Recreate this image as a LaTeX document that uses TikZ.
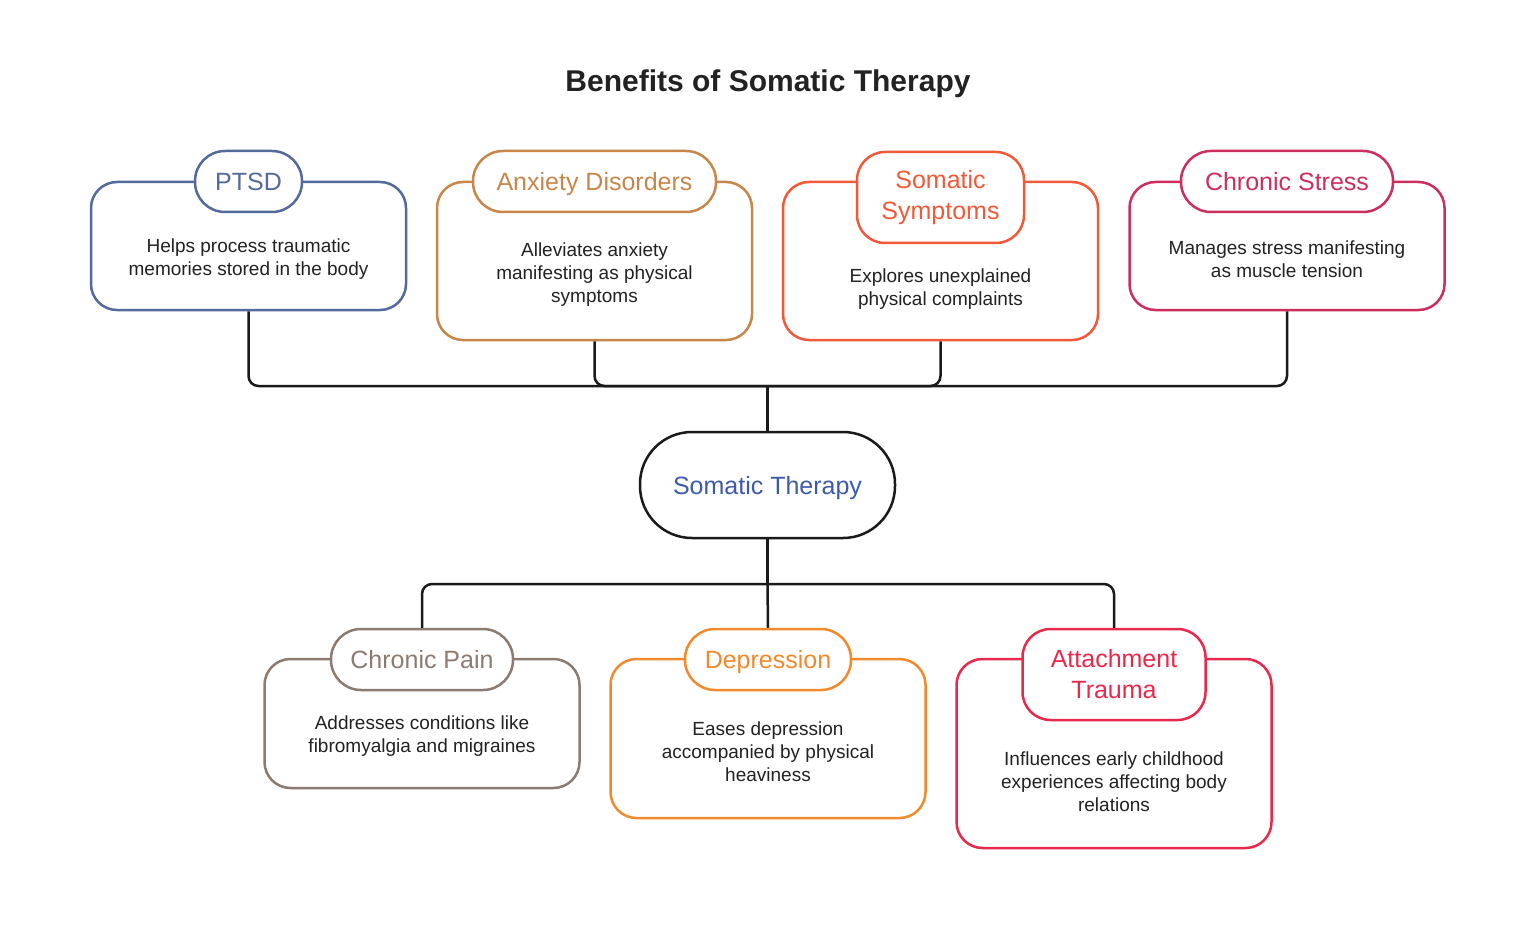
\documentclass[tikz,border=0pt]{standalone}
\usepackage{fontspec}
\setmainfont{Liberation Sans}
\definecolor{cA}{HTML}{546A9B}
\definecolor{cB}{HTML}{C8874A}
\definecolor{cC}{HTML}{F05A3A}
\definecolor{cD}{HTML}{CC2F5E}
\definecolor{cE}{HTML}{8C7B70}
\definecolor{cF}{HTML}{F08A2C}
\definecolor{cG}{HTML}{E8294B}
\definecolor{cenblue}{HTML}{3D5BA8}
\definecolor{txt}{HTML}{222222}
\definecolor{lnk}{HTML}{1A1A1A}
\begin{document}
\begin{tikzpicture}[x=1pt,y=-1pt,
  box/.style={draw, line width=2.5pt, rounded corners=26pt, fill=white, minimum width=315pt, inner sep=0pt},
  pill/.style={draw, line width=2.5pt, fill=white, inner sep=0pt, font=\fontsize{25}{31}\selectfont, align=center},
  oneline/.style={text height=18pt, text depth=0pt},
  desc/.style={font=\fontsize{19}{23}\selectfont, text=txt, align=center},
  conn/.style={line width=2.5pt, draw=lnk, rounded corners=10pt}]
\useasboundingbox[fill=white] (0,0) rectangle (1536,925);
\node[font=\fontsize{30}{36}\selectfont\bfseries, text=txt] (title) at (768,84) {Benefits of Somatic Therapy};

% top row
\node[box, draw=cA, minimum height=128pt] (bA) at (248.5,246) {};
\node[pill, oneline, draw=cA, text=cA, minimum width=107pt, minimum height=61pt, rounded corners=30pt] (lA) at (248.5,181.5) {PTSD};
\node[desc] (tA) at (248.5,259) {Helps process traumatic\\memories stored in the body};

\node[box, draw=cB, minimum height=158pt] (bB) at (594.5,261) {};
\node[pill, oneline, draw=cB, text=cB, minimum width=243pt, minimum height=61pt, rounded corners=30pt] (lB) at (594.5,181.5) {Anxiety Disorders};
\node[desc] (tB) at (594.5,274.5) {Alleviates anxiety\\manifesting as physical\\symptoms};

\node[box, draw=cC, minimum height=158pt] (bC) at (940.5,261) {};
\node[pill, draw=cC, text=cC, minimum width=167pt, minimum height=91pt, rounded corners=28pt] (lC) at (940.5,197.5) {Somatic\\Symptoms};
\node[desc] (tC) at (940.5,289) {Explores unexplained\\physical complaints};

\node[box, draw=cD, minimum height=128pt] (bD) at (1287,246) {};
\node[pill, oneline, draw=cD, text=cD, minimum width=212pt, minimum height=61pt, rounded corners=30pt] (lD) at (1287,181.5) {Chronic Stress};
\node[desc] (tD) at (1287,259) {Manages stress manifesting\\as muscle tension};

% center
\node[draw=lnk, line width=2.5pt, fill=white, minimum width=255pt, minimum height=106pt, rounded corners=52pt, text=cenblue, font=\fontsize{25}{31}\selectfont, oneline] (cen) at (767.5,485) {Somatic Therapy};

% bottom row
\node[box, draw=cE, minimum height=129pt] (bE) at (422,723.5) {};
\node[pill, oneline, draw=cE, text=cE, minimum width=182pt, minimum height=61pt, rounded corners=30pt] (lE) at (422,659.5) {Chronic Pain};
\node[desc] (tE) at (422,736) {Addresses conditions like\\fibromyalgia and migraines};

\node[box, draw=cF, minimum height=159pt] (bF) at (768,738.5) {};
\node[pill, oneline, draw=cF, text=cF, minimum width=166pt, minimum height=61pt, rounded corners=30pt] (lF) at (768,659.5) {Depression};
\node[desc] (tF) at (768,751.5) {Eases depression\\accompanied by physical\\heaviness};

\node[box, draw=cG, minimum height=189pt] (bG) at (1114,753.5) {};
\node[pill, draw=cG, text=cG, minimum width=183pt, minimum height=91pt, rounded corners=28pt] (lG) at (1114,674.5) {Attachment\\Trauma};
\node[desc] (tG) at (1114,781.5) {Influences early childhood\\experiences affecting body\\relations};

% connectors
\coordinate (jt) at (767.5,386);
\coordinate (jb) at (767.5,584);
\draw[conn] (bA.south) |- (jt);
\draw[conn] (bB.south) |- (jt);
\draw[conn] (bC.south) |- (jt);
\draw[conn] (bD.south) |- (jt);
\draw[conn] (jt) -- (cen.north);
\draw[conn] (cen.south) -- (jb);
\draw[conn] (jb) -| (lE.north);
\draw[conn] (jb) -- (lF.north);
\draw[conn] (jb) -| (lG.north);
\end{tikzpicture}
\end{document}
